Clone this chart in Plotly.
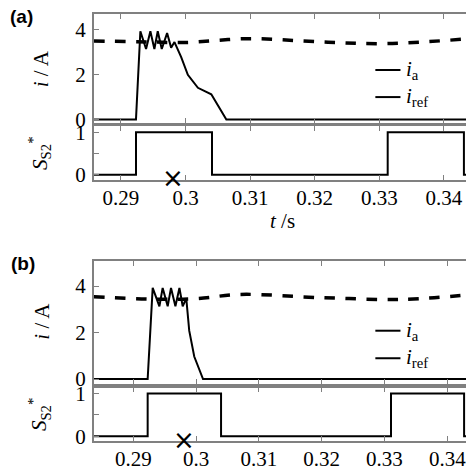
import plotly.graph_objects as go
from plotly.subplots import make_subplots

# panel (a)
a_t = [0.2858, 0.29233, 0.29301, 0.29389, 0.29456, 0.29518, 0.2957, 0.29632, 0.29715,
       0.29777, 0.29829, 0.29933, 0.30036, 0.30192, 0.30399, 0.30632, 0.3448]
a_i = [0, 0, 3.93, 3.14, 3.93, 3.14, 3.93, 3.14, 3.85, 3.2, 3.45, 2.78, 1.99, 1.41, 1.12, 0, 0]
a_ref_t = [0.2858, 0.295, 0.300, 0.3097, 0.320, 0.331, 0.3448]
a_ref_i = [3.5, 3.45, 3.43, 3.6, 3.47, 3.38, 3.62]
a_s_t = [0.2858, 0.29233, 0.3041, 0.3313, 0.3431, 0.3448]
a_s = [0, 1, 0, 1, 0, 0]
a_mark = (0.2981, -0.12)

# panel (b)
b_t = [0.2837, 0.29228, 0.29308, 0.29415, 0.29467, 0.29547, 0.29600, 0.29670, 0.29734,
       0.29786, 0.29843, 0.2989, 0.2997, 0.3011, 0.3444]
b_i = [0, 0, 3.92, 3.13, 3.92, 3.13, 3.92, 3.13, 3.92, 3.13, 3.47, 2.08, 0.97, 0, 0]
b_ref_t = [0.2837, 0.293, 0.300, 0.307, 0.320, 0.333, 0.3444]
b_ref_i = [3.54, 3.44, 3.46, 3.64, 3.5, 3.43, 3.65]
b_s_t = [0.2837, 0.29228, 0.30397, 0.33104, 0.34268, 0.3444]
b_s = [0, 1, 0, 1, 0, 0]
b_mark = (0.2980, -0.13)

x_ticks = [0.29, 0.30, 0.31, 0.32, 0.33, 0.34]
x_labels = ["0.29", "0.3", "0.31", "0.32", "0.33", "0.34"]

serif = dict(family="Times New Roman", size=21, color="black")
dom_x = [0.181, 0.985]
doms = [[0.763, 1.0], [0.639, 0.755], [0.194, 0.462], [0.0696, 0.186]]
xr = [[0.2858, 0.3448], [0.2858, 0.3448], [0.2837, 0.3444], [0.2837, 0.3444]]
yr = [[-0.15, 4.7], [-0.114, 1.136], [-0.21, 5.08], [-0.114, 1.136]]

fig = make_subplots(rows=4, cols=1)
ln = dict(color="black", width=2)
ann = []
for row, (t, i, rt, ri, st, s, mk) in enumerate([
        (a_t, a_i, a_ref_t, a_ref_i, a_s_t, a_s, a_mark),
        (b_t, b_i, b_ref_t, b_ref_i, b_s_t, b_s, b_mark)]):
    r = row * 2 + 1
    fig.add_trace(go.Scatter(x=rt, y=ri, mode="lines", line=dict(color="black", width=3.5, dash="dash", shape="spline")), row=r, col=1)
    fig.add_trace(go.Scatter(x=t, y=i, mode="lines", line=ln), row=r, col=1)
    fig.add_trace(go.Scatter(x=st, y=s, mode="lines", line=dict(color="black", width=2, shape="hv")), row=r + 1, col=1)
    # cross marker sits just below the S axis range, so place it in paper y
    d, rg = doms[r], yr[r]
    py = d[0] + (mk[1] - rg[0]) / (rg[1] - rg[0]) * (d[1] - d[0]) + 0.004
    ann.append(dict(x=mk[0], y=py, xref="x%d" % (r + 1), yref="paper", text="×",
                    font=dict(family="DejaVu Sans", size=26, color="black"), xanchor="center", yanchor="middle"))

axis = dict(showline=True, mirror="ticks", linecolor="#808080", linewidth=1.5, ticks="inside",
            ticklen=5, tickcolor="#808080", showgrid=False, zeroline=False, tickfont=serif)
for k in range(4):
    n = "" if k == 0 else str(k + 1)
    show = k in (1, 3)
    fig.layout["xaxis" + n].update(domain=dom_x, range=xr[k], tickvals=x_ticks, ticktext=x_labels,
                                   showticklabels=show, ticklabelstandoff=-2, **axis)
    yt = dict(tickvals=[0, 2, 4]) if k % 2 == 0 else dict(tickvals=[0, 0.5, 1], ticktext=["0", "", "1"])
    fig.layout["yaxis" + n].update(domain=doms[k], range=yr[k], ticklabelstandoff=2, **yt, **axis)

bold = dict(family="Liberation Sans", size=19, color="black")
ann += [
    dict(x=0.0, y=0.995, text="<b>(a)</b>", font=bold, xanchor="left", yanchor="middle"),
    dict(x=0.002, y=0.456, text="<b>(b)</b>", font=bold, xanchor="left", yanchor="middle"),
    dict(x=0.58, y=0.55, text="<i>t</i> /s", font=serif, xanchor="center", yanchor="middle"),
]
for top, s_mid, leg_y in [(0.88, 0.697, (0.878, 0.819)), (0.33, 0.128, (0.31, 0.25))]:
    ann.append(dict(x=0.07, y=top, text="<i>i</i> / A", textangle=-90, font=serif, xanchor="center", yanchor="middle"))
    ann.append(dict(x=0.065, y=s_mid, text="<i>S</i><sub>S2</sub><sup>*</sup>", textangle=-90, font=serif,
                    xanchor="center", yanchor="middle"))
    ann.append(dict(x=0.835, y=leg_y[0], text="<i>i</i><sub>a</sub>", font=serif, xanchor="left", yanchor="middle"))
    ann.append(dict(x=0.835, y=leg_y[1], text="<i>i</i><sub>ref</sub>", font=serif, xanchor="left", yanchor="middle"))
for a in ann:
    a.setdefault("xref", "paper")
    a.setdefault("yref", "paper")
    a["showarrow"] = False
fig.update_layout(annotations=ann)
for y in [0.878, 0.819, 0.31, 0.25]:
    fig.add_shape(type="line", xref="paper", yref="paper", x0=0.775, x1=0.828, y0=y, y1=y, line=ln)

fig.update_layout(width=474, height=474, margin=dict(l=0, r=0, t=0, b=0), showlegend=False,
                  plot_bgcolor="white", paper_bgcolor="white", font=serif)
fig.write_html("out.html")
